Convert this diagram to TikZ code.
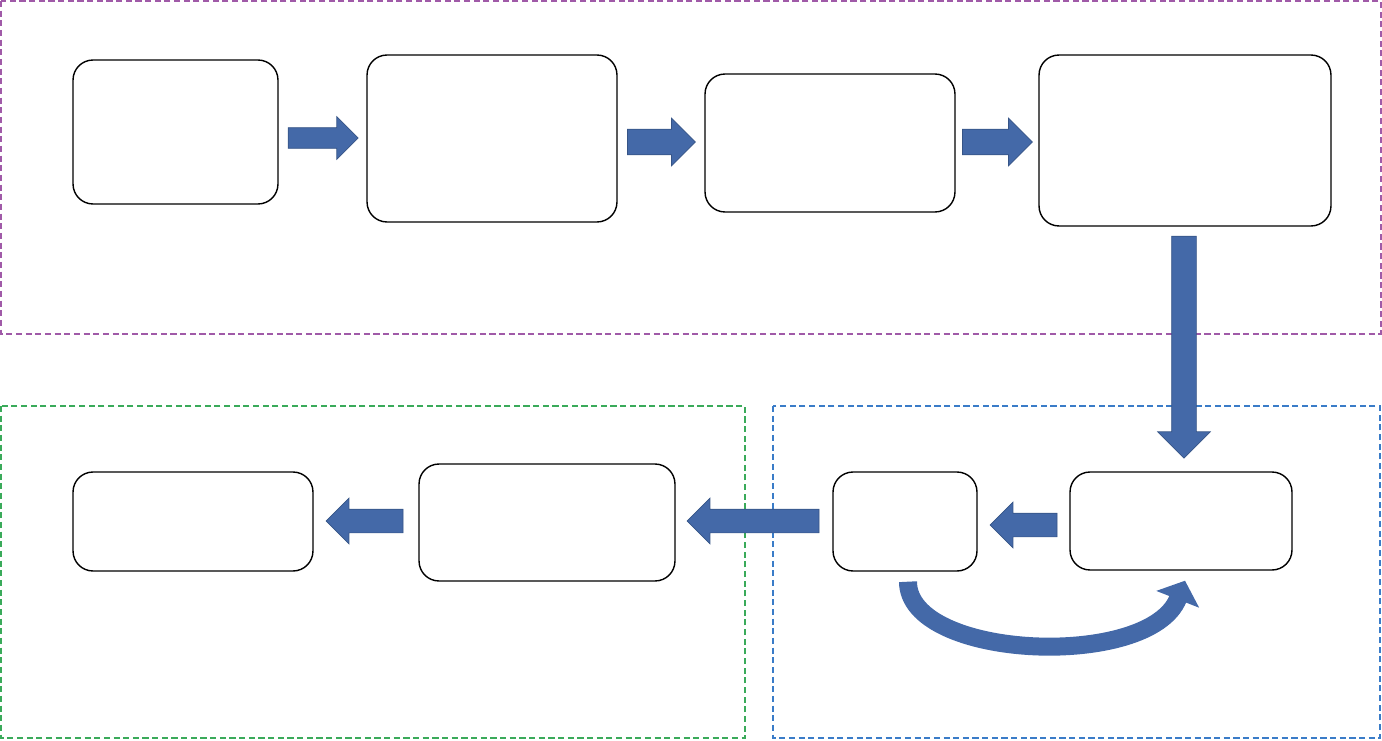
\documentclass[tikz,border=0pt]{standalone}
\usetikzlibrary{shapes.arrows,arrows.meta,calc}
\definecolor{arrowblue}{HTML}{4469A8}
\definecolor{framepurple}{HTML}{A05AA8}
\definecolor{framegreen}{HTML}{3AAA5A}
\definecolor{frameblue}{HTML}{3A7CC8}
\tikzset{
  box/.style={draw, rounded corners=0.4cm, line width=0.8pt, inner sep=0pt},
  blockarrow/.style={single arrow, fill=arrowblue, draw=arrowblue!80!black,
    inner sep=0pt, minimum height=#1, single arrow head extend=0.22cm},
  frame/.style={dash pattern=on 3.5pt off 2pt, line width=0.6pt}
}
\newcommand{\shaft}[1]{\rule{0pt}{#1}}
\begin{document}
\begin{tikzpicture}[x=0.02cm, y=-0.02cm]
  \useasboundingbox (0,0) rectangle (1382,740);

  % frames
  \draw[frame, framepurple] (1,1) rectangle (1381,334);
  \draw[frame, framegreen] (1,406) rectangle (745,738);
  \draw[frame, frameblue] (773,406) rectangle (1380,738);

  % boxes, top row
  \node[box, minimum width=4.1cm, minimum height=2.88cm] (a) at (175.5,132) {};
  \node[box, minimum width=5cm, minimum height=3.34cm] (b) at (492,138.5) {};
  \node[box, minimum width=5cm, minimum height=2.76cm] (c) at (830,143) {};
  \node[box, minimum width=5.84cm, minimum height=3.42cm] (d) at (1185,140.5) {};

  % boxes, bottom row
  \node[box, minimum width=4.44cm, minimum height=1.96cm] (e) at (1181,521) {};
  \node[box, minimum width=2.88cm, minimum height=1.98cm] (f) at (905,521.5) {};
  \node[box, minimum width=5.12cm, minimum height=2.34cm] (g) at (547,522.5) {};
  \node[box, minimum width=4.8cm, minimum height=1.98cm] (h) at (193,521.5) {};

  % block arrows
  \node[blockarrow=1.4cm] (ab) at (318,138) {\shaft{0.4cm}};
  \node[blockarrow=1.36cm] (bc) at (655,142) {\shaft{0.5cm}};
  \node[blockarrow=1.4cm] (cd) at (991,142) {\shaft{0.5cm}};
  \node[blockarrow=4.44cm, single arrow head extend=0.28cm,
    rotate=-90] (de) at (1184,341) {\shaft{0.48cm}};
  \node[blockarrow=1.34cm, shape border rotate=180] (ef) at (1029.5,525) {\shaft{0.46cm}};
  \node[blockarrow=2.64cm, shape border rotate=180] (fg) at (759,521) {\shaft{0.46cm}};
  \node[blockarrow=1.54cm, shape border rotate=180] (gh) at (370.5,521) {\shaft{0.46cm}};

  % curved arrow
  \coordinate (fs) at ($(f.south)+(3,10)$);
  \coordinate (es) at ($(e.south)+(4,10)$);
  \draw[arrowblue, line width=0.36cm, -{Triangle[length=0.4cm, width=0.9cm]}]
    (fs) .. controls (908,660) and (1150,670) .. (es);
\end{tikzpicture}
\end{document}
